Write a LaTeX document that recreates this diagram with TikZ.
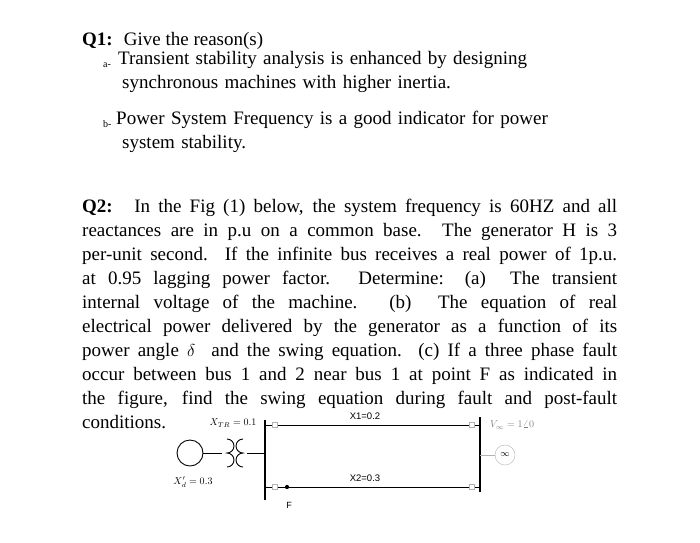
\documentclass[tikz,border=0pt]{standalone}
\usepackage{fontspec}
\setmainfont{Liberation Serif}
\newfontfamily\sansf{Liberation Sans}
\begin{document}
\begin{tikzpicture}[x=1pt,y=-1pt,
 txt/.style={anchor=base west,inner sep=0pt,font=\fontsize{19}{24}\selectfont},
 lbl/.style={inner sep=1pt,font=\fontsize{10}{12}\selectfont},
 wire/.style={line width=0.9pt},
 busbar/.style={line width=1.6pt},
 term/.style={draw=gray!60,fill=white,minimum size=5pt,inner sep=0pt}]
\useasboundingbox (0,0) rectangle (700,542);
\node[txt] (q1) at (82,45) {\textbf{Q1:} \ Give the reason(s)};
\node[txt,font=\fontsize{10}{12}\selectfont] (la) at (103,67) {a-};
\node[txt,text width=480pt,align=left] (ta) at (118,64) {Transient stability analysis is enhanced by designing\\\hspace*{4pt}synchronous machines with higher inertia.};
\node[txt,font=\fontsize{10}{12}\selectfont] (lb) at (103,127) {b-};
\node[txt,text width=480pt,align=left] (tb) at (116,124) {Power System Frequency is a good indicator for power\\\hspace*{6pt}system stability.};
\node[txt,anchor=north west,text width=535pt,align=justify] (q2) at (82,199) {\hyphenpenalty=10000 \textbf{Q2:} \ In the Fig (1) below, the system frequency is 60HZ and all\linebreak reactances are in p.u on a common base. The generator H is 3\linebreak per-unit second. If the infinite bus receives a real power of 1p.u.\linebreak at 0.95 lagging power factor. Determine: (a) \ The transient\linebreak internal voltage of the machine. (b) \ The equation of real\linebreak electrical power delivered by the generator as a function of its\linebreak power angle $\delta$ \ and the swing equation. (c) If a three phase fault\linebreak occur between bus 1 and 2 near bus 1 at point F as indicated in\linebreak the figure, find the swing equation during fault and post-fault\linebreak conditions.};
% diagram
\node[draw,circle,line width=0.9pt,minimum size=26pt,inner sep=0pt] (gen) at (190,453) {};
\coordinate (t1) at (222,453);
\coordinate (t2) at (247,453);
\draw[wire] (gen.east) -- (t1);
\draw[wire] (227,439) arc[start angle=90,end angle=-90,radius=7pt] arc[start angle=90,end angle=-90,radius=7pt];
\draw[wire] (243,439) arc[start angle=90,end angle=270,radius=7pt] arc[start angle=90,end angle=270,radius=7pt];
\coordinate (b1c) at (265,453);
\draw[wire] (t2) -- (b1c);
\draw[busbar] (265,420) -- (265,500);
\draw[busbar] (480,417) -- (480,492);
\node[term] (s1) at (275,425) {};
\node[term] (s2) at (472,425) {};
\node[term] (s3) at (275,487) {};
\node[term] (s4) at (472,487) {};
\draw[wire] (265,425) -- (s1) -- (s2) -- (480,425);
\draw[wire] (265,487) -- (s3) -- (s4) -- (480,487);
\node[circle,fill,inner sep=1.5pt] (F) at (287,487) {};
\node[lbl,font=\sansf\fontsize{9}{10}\selectfont] (Fl) at (289,505) {F};
\node[lbl,font=\sansf\fontsize{9.5}{10}\selectfont] (x1) at (365,416) {X1=0.2};
\node[lbl,font=\sansf\fontsize{9.5}{10}\selectfont] (x2) at (365,478) {X2=0.3};
\node[draw=gray!60,circle,minimum size=20pt,inner sep=0pt,font=\sansf\fontsize{9}{10}\selectfont] (inf) at (505,455) {$\infty$};
\draw[gray!60] (480,455) -- (inf.west);
\node[lbl,text=gray] (vinf) at (512,425) {$V_\infty = 1\angle 0$};
\node[lbl] (xtr) at (233,423) {$X_{TR}=0.1$};
\node[lbl] (xd) at (193,482) {$X_d' = 0.3$};
\end{tikzpicture}
\end{document}
